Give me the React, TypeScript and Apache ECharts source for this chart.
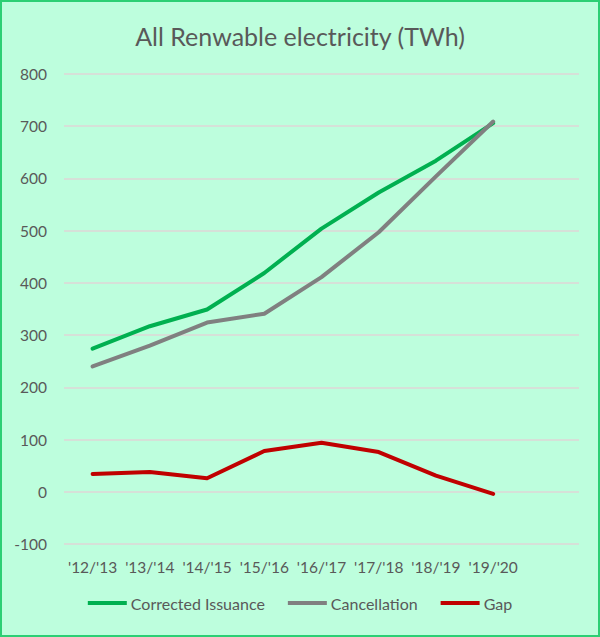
import React, { useEffect, useRef } from "react";
import * as echarts from "echarts";

const categories = ["'12/'13", "'13/'14", "'14/'15", "'15/'16", "'16/'17", "'17/'18", "'18/'19", "'19/'20"];
const correctedIssuance = [274, 317, 349, 419, 504, 573, 634, 706];
const cancellation = [240, 280, 324, 341, 411, 497, 604, 709];
const gap = [34, 38, 26, 78, 94, 76, 31, -4];

const FONT = "Lato, 'Open Sans', sans-serif";
const TEXT = "#595959";

export default function App() {
  const ref = useRef<HTMLDivElement>(null);

  useEffect(() => {
    if (!ref.current) return;
    const chart = echarts.init(ref.current, null, { renderer: "svg" });
    const line = (name: string, data: number[], color: string) => ({
      name,
      type: "line",
      data,
      symbol: "none",
      smooth: false,
      lineStyle: { color, width: 4, cap: "round", join: "round" },
      itemStyle: { color },
    });
    chart.setOption({
      animation: false,
      backgroundColor: "#bdfedd",
      textStyle: { fontFamily: FONT },
      title: {
        text: "All Renwable electricity (TWh)",
        left: "center",
        top: 18,
        textStyle: { fontFamily: FONT, fontSize: 25, fontWeight: "normal", color: TEXT },
      },
      graphic: [
        {
          type: "rect",
          shape: { x: 1, y: 1, width: 598, height: 635 },
          style: { fill: "none", stroke: "#2ccf74", lineWidth: 2 },
          silent: true,
        },
      ],
      grid: { left: 64, right: 21, top: 74, bottom: 93, containLabel: false },
      xAxis: {
        type: "category",
        data: categories,
        max: categories.length,
        boundaryGap: true,
        axisLine: { show: false },
        axisTick: { show: false },
        axisLabel: { color: TEXT, fontSize: 15.5, fontFamily: FONT, margin: 15, interval: 0 },
        splitLine: { show: false },
      },
      yAxis: {
        type: "value",
        min: -100,
        max: 800,
        interval: 100,
        axisLine: { show: false },
        axisTick: { show: false },
        axisLabel: { color: TEXT, fontSize: 15.5, fontFamily: FONT, margin: 17 },
        splitLine: { lineStyle: { color: "#dfd6d6", width: 1.5 } },
      },
      legend: {
        bottom: 21,
        left: "center",
        itemWidth: 39,
        itemHeight: 4,
        itemGap: 23,
        icon: "rect",
        textStyle: { color: TEXT, fontSize: 16, fontFamily: FONT, padding: [0, 0, 0, -1] },
        data: ["Corrected Issuance", "Cancellation", "Gap"],
      },
      series: [
        line("Corrected Issuance", correctedIssuance, "#00b050"),
        line("Cancellation", cancellation, "#808080"),
        line("Gap", gap, "#c00000"),
      ],
    });
    return () => chart.dispose();
  }, []);

  return (
    <div
      ref={ref}
      style={{ position: "fixed", left: 0, top: 0, width: 600, height: 637 }}
    />
  );
}
